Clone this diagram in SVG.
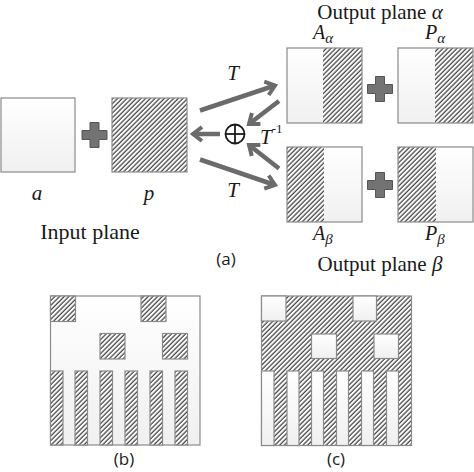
<svg xmlns="http://www.w3.org/2000/svg" width="474" height="472" viewBox="0 0 474 472">
<style>
.serif{font-family:"Liberation Serif","DejaVu Serif",serif;fill:#1a1a1a}
.it{font-style:italic}
.sans{font-family:"Open Sans","Liberation Sans",sans-serif;fill:#1a1a1a}
.box{stroke:#8a8a8a;stroke-width:1.2}
.blank{fill:url(#grad)}
.hatch{fill:url(#hatch)}
.plus{fill:#737373;stroke:#555;stroke-width:1}
.arr{stroke:#6b6b6b;stroke-width:4.5;fill:none;stroke-linecap:butt}
</style>
<defs>
<linearGradient id="grad" x1="0" y1="0" x2="0" y2="1">
<stop offset="0" stop-color="#ffffff"/>
<stop offset="1" stop-color="#f0f0f0"/>
</linearGradient>
<pattern id="hatch" patternUnits="userSpaceOnUse" width="3.3" height="3.3" patternTransform="rotate(45)">
<rect width="3.3" height="3.3" fill="#ffffff"/>
<line x1="1" y1="0" x2="1" y2="3.3" stroke="#3a3a3a" stroke-width="1.2"/>
</pattern>
<marker id="ah" markerUnits="userSpaceOnUse" markerWidth="20" markerHeight="20" viewBox="-12 -10 16 20" refX="0" refY="0" orient="auto">
<path d="M-9,-7 L0,0 L-9,7" fill="none" stroke="#6b6b6b" stroke-width="4"/>
</marker>
</defs>
<rect width="474" height="472" fill="#ffffff"/>

<g id="input-plane">
<rect id="box-a" class="box blank" x="1" y="98" width="74" height="74"/>
<path class="plus" d="M90,122.5 h9 v8 h8 v9 h-8 v8 h-9 v-8 h-8 v-9 h8 z"/>
<rect id="box-p" class="box hatch" x="112" y="98" width="75" height="74"/>
<text class="serif it" x="37" y="200" font-size="21" text-anchor="middle">a</text>
<text class="serif it" x="149" y="200" font-size="21" text-anchor="middle">p</text>
<text class="serif" x="90" y="239" font-size="22" text-anchor="middle">Input plane</text>
</g>

<g id="output-alpha">
<text class="serif" x="380" y="19" font-size="21" text-anchor="middle">Output plane <tspan class="it">α</tspan></text>
<rect class="blank" x="287" y="48" width="36" height="75"/>
<rect class="hatch" x="323" y="48" width="39" height="75"/>
<rect class="box" x="287" y="48" width="75" height="75" fill="none"/>
<path class="plus" d="M375.5,76.5 h9 v8 h8 v9 h-8 v8 h-9 v-8 h-8 v-9 h8 z"/>
<rect class="blank" x="398" y="48" width="37" height="75"/>
<rect class="hatch" x="435" y="48" width="38" height="75"/>
<rect class="box" x="398" y="48" width="75" height="75" fill="none"/>
<text class="serif it" x="313" y="39" font-size="20">A<tspan font-size="15" dy="4">α</tspan></text>
<text class="serif it" x="425" y="39" font-size="20">P<tspan font-size="15" dy="4">α</tspan></text>
</g>

<g id="output-beta">
<rect class="hatch" x="287" y="147" width="37" height="75"/>
<rect class="blank" x="324" y="147" width="38" height="75"/>
<rect class="box" x="287" y="147" width="75" height="75" fill="none"/>
<path class="plus" d="M375.5,172.5 h9 v8 h8 v9 h-8 v8 h-9 v-8 h-8 v-9 h8 z"/>
<rect class="hatch" x="398" y="147" width="38" height="75"/>
<rect class="blank" x="436" y="147" width="37" height="75"/>
<rect class="box" x="398" y="147" width="75" height="75" fill="none"/>
<text class="serif it" x="313" y="240" font-size="20">A<tspan font-size="15" dy="4">β</tspan></text>
<text class="serif it" x="425" y="240" font-size="20">P<tspan font-size="15" dy="4">β</tspan></text>
<text class="serif" x="380" y="271" font-size="21" text-anchor="middle">Output plane <tspan class="it">β</tspan></text>
</g>

<g id="combiner">
<circle cx="235" cy="134" r="9.5" fill="none" stroke="#1a1a1a" stroke-width="1.8"/>
<line x1="225.5" y1="134" x2="244.5" y2="134" stroke="#1a1a1a" stroke-width="1.8"/>
<line x1="235" y1="124.5" x2="235" y2="143.5" stroke="#1a1a1a" stroke-width="1.8"/>
</g>

<g id="connectors">
<line class="arr" x1="200" y1="110.5" x2="275" y2="85.5" marker-end="url(#ah)"/>
<line class="arr" x1="279" y1="101" x2="249" y2="124" marker-end="url(#ah)"/>
<line class="arr" x1="220" y1="134" x2="193" y2="134" marker-end="url(#ah)"/>
<line class="arr" x1="279" y1="168.5" x2="249" y2="145" marker-end="url(#ah)"/>
<line class="arr" x1="200" y1="159.5" x2="275" y2="185" marker-end="url(#ah)"/>
<text class="serif it" x="233" y="80" font-size="21" text-anchor="middle">T</text>
<text class="serif it" x="233" y="197" font-size="21" text-anchor="middle">T</text>
<text class="serif" x="260" y="144" font-size="21"><tspan class="it">T</tspan><tspan font-size="13" dy="-11">-1</tspan></text>
</g>

<text class="sans" x="226" y="265" font-size="17" text-anchor="middle">(a)</text>

<g id="panel-b">
<rect class="box blank" x="50.5" y="296" width="149.5" height="149"/>
<rect class="box hatch" x="50.5" y="296" width="25" height="25.5"/>
<rect class="box hatch" x="141" y="296" width="25" height="25.5"/>
<rect class="box hatch" x="100" y="333.5" width="25" height="25.5"/>
<rect class="box hatch" x="162.5" y="333.5" width="25" height="25.5"/>
<rect class="box hatch" x="50.5" y="371" width="12.5" height="74"/>
<rect class="box hatch" x="75" y="371" width="12.5" height="74"/>
<rect class="box hatch" x="100" y="371" width="12.5" height="74"/>
<rect class="box hatch" x="125" y="371" width="12.5" height="74"/>
<rect class="box hatch" x="150" y="371" width="12.5" height="74"/>
<rect class="box hatch" x="175" y="371" width="12.5" height="74"/>
<text class="sans" x="124" y="465" font-size="17" text-anchor="middle">(b)</text>
</g>

<g id="panel-c">
<rect class="box hatch" x="261.5" y="296" width="150" height="149.5"/>
<rect class="box blank" x="261.5" y="296" width="24.5" height="25"/>
<rect class="box blank" x="353" y="296" width="23.5" height="25"/>
<rect class="box blank" x="311.5" y="334" width="25" height="24.5"/>
<rect class="box blank" x="374" y="334" width="24.5" height="24.5"/>
<rect class="box blank" x="261.5" y="371" width="12.5" height="74.5"/>
<rect class="box blank" x="287" y="371" width="12" height="74.5"/>
<rect class="box blank" x="311.5" y="371" width="12" height="74.5"/>
<rect class="box blank" x="336.5" y="371" width="12" height="74.5"/>
<rect class="box blank" x="361.5" y="371" width="12" height="74.5"/>
<rect class="box blank" x="386.5" y="371" width="12" height="74.5"/>
<text class="sans" x="336" y="465" font-size="17" text-anchor="middle">(c)</text>
</g>
</svg>
